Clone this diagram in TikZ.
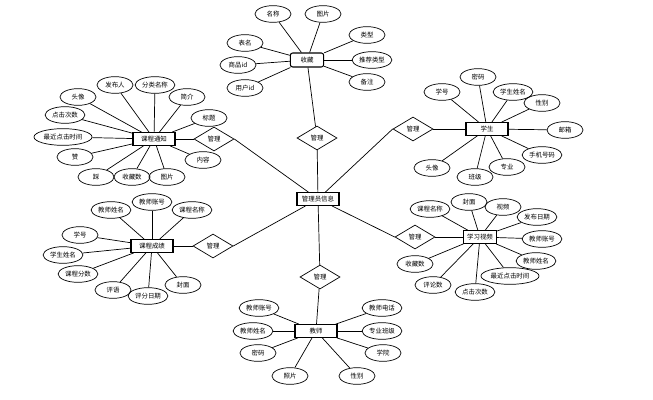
\documentclass[tikz,border=0pt]{standalone}
\usepackage{fontspec}
\setmainfont{Noto Sans CJK SC}
\usetikzlibrary{shapes.geometric}

\begin{document}
\begin{tikzpicture}[-,x=0.03cm,y=-0.03cm,line width=0.6pt,
  every node/.style={font=\fontsize{5.5}{6}\selectfont},
  entity/.style={rectangle,draw,line width=0.9pt,minimum width=1.26cm,minimum height=0.38cm,inner sep=1pt},
  attr/.style={ellipse,draw,minimum width=1.08cm,minimum height=0.5cm,inner sep=1pt},
  rel/.style={diamond,draw,minimum width=1.2cm,minimum height=0.72cm,inner sep=0pt}]

  \useasboundingbox (0,0) rectangle (653,400);

  % center
  \node[entity,line width=1pt] (admin) at (318,199) {管理员信息};
  \node[rel] (r1) at (317,138) {管理};
  \node[rel] (r2) at (320,277) {管理};
  \node[rel] (r3) at (214,139) {管理};
  \node[rel] (r4) at (213,246) {管理};
  \node[rel] (r5) at (413,129) {管理};
  \node[rel] (r6) at (415,237) {管理};

  % entities
  \node[entity,rounded corners=2pt,minimum width=1.0cm,minimum height=0.42cm] (fav) at (307,60) {收藏};
  \node[entity] (notice) at (154,139) {课程通知};
  \node[entity] (stu) at (487,129) {学生};
  \node[entity] (score) at (152,246) {课程成绩};
  \node[entity,minimum width=1.0cm] (video) at (480,237) {学习视频};
  \node[entity] (tea) at (316,331) {教师};

  % 收藏
  \node[attr] (fav1) at (273,14) {名称};
  \node[attr] (fav2) at (323,14) {图片};
  \node[attr] (fav3) at (245,43) {表名};
  \node[attr] (fav4) at (238,65) {商品id};
  \node[attr] (fav5) at (245,88) {用户id};
  \node[attr] (fav6) at (367,35) {类型};
  \node[attr] (fav7) at (372,60) {推荐类型};
  \node[attr] (fav8) at (367,82) {备注};

  % 课程通知
  \node[attr] (no1) at (78,97) {头像};
  \node[attr] (no2) at (115,85) {发布人};
  \node[attr] (no3) at (155,85) {分类名称};
  \node[attr] (no4) at (187,97) {简介};
  \node[attr] (no5) at (209,118) {标题};
  \node[attr] (no6) at (65,115) {点击次数};
  \node[attr] (no7) at (63,137) {最近点击时间};
  \node[attr] (no8) at (75,157) {赞};
  \node[attr] (no9) at (96,177) {踩};
  \node[attr] (no10) at (132,177) {收藏数};
  \node[attr] (no11) at (167,177) {图片};
  \node[attr] (no12) at (203,160) {内容};

  % 学生
  \node[attr] (st1) at (442,92) {学号};
  \node[attr] (st2) at (478,77) {密码};
  \node[attr] (st3) at (513,92) {学生姓名};
  \node[attr] (st4) at (542,103) {性别};
  \node[attr] (st5) at (565,130) {邮箱};
  \node[attr] (st6) at (542,155) {手机号码};
  \node[attr] (st7) at (507,167) {专业};
  \node[attr] (st8) at (475,177) {班级};
  \node[attr] (st9) at (432,168) {头像};

  % 课程成绩
  \node[attr] (sc1) at (111,210) {教师姓名};
  \node[attr] (sc2) at (152,202) {教师账号};
  \node[attr] (sc3) at (192,210) {课程名称};
  \node[attr] (sc4) at (80,235) {学号};
  \node[attr] (sc5) at (63,255) {学生姓名};
  \node[attr] (sc6) at (78,274) {课程分数};
  \node[attr] (sc7) at (113,290) {评语};
  \node[attr] (sc8) at (148,296) {评分日期};
  \node[attr] (sc9) at (183,285) {封面};

  % 学习视频
  \node[attr] (vi1) at (430,209) {课程名称};
  \node[attr] (vi2) at (469,202) {封面};
  \node[attr] (vi3) at (503,207) {视频};
  \node[attr] (vi4) at (537,217) {发布日期};
  \node[attr] (vi5) at (542,239) {教师账号};
  \node[attr] (vi6) at (536,261) {教师姓名};
  \node[attr] (vi7) at (510,276) {最近点击时间};
  \node[attr] (vi8) at (475,292) {点击次数};
  \node[attr] (vi9) at (433,285) {评论数};
  \node[attr] (vi10) at (415,264) {收藏数};

  % 教师
  \node[attr] (te1) at (259,308) {教师账号};
  \node[attr] (te2) at (253,331) {教师姓名};
  \node[attr] (te3) at (258,353) {密码};
  \node[attr] (te4) at (290,376) {照片};
  \node[attr] (te5) at (357,376) {性别};
  \node[attr] (te6) at (382,308) {教师电话};
  \node[attr] (te7) at (382,331) {专业班级};
  \node[attr] (te8) at (383,353) {学院};

  \path
    (admin) edge (r1)
    (admin) edge (r2)
    (admin) edge (r3.east)
    (admin) edge (r4.east)
    (admin) edge (r5.west)
    (admin) edge (r6.west)
    (r1) edge (fav)
    (r2) edge (tea)
    (r3) edge (notice)
    (r4) edge (score)
    (r5) edge (stu)
    (r6) edge (video);

  \foreach \i in {1,...,8} \draw (fav\i) -- (fav);
  \foreach \i in {1,...,12} \draw (no\i) -- (notice);
  \foreach \i in {1,...,9} \draw (st\i) -- (stu);
  \foreach \i in {1,...,9} \draw (sc\i) -- (score);
  \foreach \i in {1,...,10} \draw (vi\i) -- (video);
  \foreach \i in {1,...,8} \draw (te\i) -- (tea);

\end{tikzpicture}
\end{document}
